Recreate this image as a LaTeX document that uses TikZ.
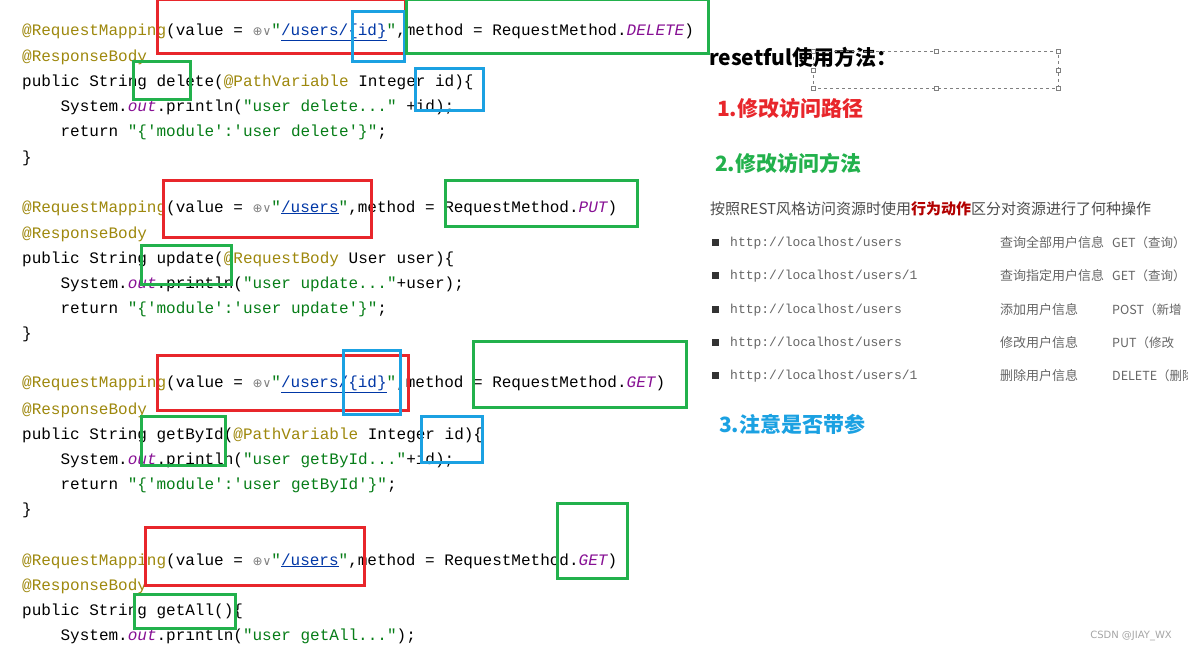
\documentclass[tikz,border=0pt]{standalone}
\usepackage{fontspec}
\setmonofont{Liberation Mono}
\newfontfamily\cjk{Noto Sans CJK SC}
\newfontfamily\dejavu{DejaVu Sans}
\definecolor{annocol}{HTML}{9E880D}
\definecolor{strcol}{HTML}{067D17}
\definecolor{urlcol}{HTML}{0037A6}
\definecolor{fieldcol}{HTML}{871094}
\definecolor{boxred}{HTML}{E8262B}
\definecolor{boxgreen}{HTML}{22B14C}
\definecolor{boxblue}{HTML}{1BA1E2}
\newcommand{\anno}[1]{\textcolor{annocol}{#1}}
\newcommand{\jstr}[1]{\textcolor{strcol}{#1}}
\newcommand{\jurl}[1]{\textcolor{strcol}{"}\textcolor{urlcol}{\underline{#1}}\textcolor{strcol}{"}}
\newcommand{\jfld}[1]{\textcolor{fieldcol}{\itshape #1}}
\newcommand{\globeicon}{\textcolor{gray}{\dejavu\fontsize{12}{12}\selectfont ⊕∨}}
\tikzset{
  code/.style={anchor=west, inner sep=0pt, font=\ttfamily\fontsize{16}{18}\selectfont},
  mark box/.style={draw=#1, line width=3pt},
  tip/.style={anchor=west, inner sep=0pt, font=\cjk\bfseries\fontsize{21}{24}\selectfont},
  row/.style={anchor=west, inner sep=0pt, text=gray!80!black},
}
\begin{document}
\begin{tikzpicture}[x=1pt,y=-1pt]
\useasboundingbox (0,0) rectangle (1188,652);
\clip (0,0) rectangle (1188,652);
\fill[white] (0,0) rectangle (1188,652);
% code
\node[code] (l1) at (22,32) {\anno{@RequestMapping}(value = \globeicon\jurl{/users/\{id\}},method = RequestMethod.\jfld{DELETE})};
\node[code] (l2) at (22,57) {\anno{@ResponseBody}};
\node[code] (l3) at (22,82) {public String delete(\anno{@PathVariable} Integer id)\{};
\node[code] (l4) at (22,107) {\ \ \ \ System.\jfld{out}.println(\jstr{"user delete..."} +id);};
\node[code] (l5) at (22,132) {\ \ \ \ return \jstr{"\{'module':'user delete'\}"};};
\node[code] (l6) at (22,158) {\}};
\node[code] (l7) at (22,208) {\anno{@RequestMapping}(value = \globeicon\jurl{/users},method = RequestMethod.\jfld{PUT})};
\node[code] (l8) at (22,234) {\anno{@ResponseBody}};
\node[code] (l9) at (22,259) {public String update(\anno{@RequestBody} User user)\{};
\node[code] (l10) at (22,284) {\ \ \ \ System.\jfld{out}.println(\jstr{"user update..."}+user);};
\node[code] (l11) at (22,309) {\ \ \ \ return \jstr{"\{'module':'user update'\}"};};
\node[code] (l12) at (22,334) {\}};
\node[code] (l13) at (22,384) {\anno{@RequestMapping}(value = \globeicon\jurl{/users/\{id\}},method = RequestMethod.\jfld{GET})};
\node[code] (l14) at (22,410) {\anno{@ResponseBody}};
\node[code] (l15) at (22,435) {public String getById(\anno{@PathVariable} Integer id)\{};
\node[code] (l16) at (22,460) {\ \ \ \ System.\jfld{out}.println(\jstr{"user getById..."}+id);};
\node[code] (l17) at (22,485) {\ \ \ \ return \jstr{"\{'module':'user getById'\}"};};
\node[code] (l18) at (22,510) {\}};
\node[code] (l19) at (22,561) {\anno{@RequestMapping}(value = \globeicon\jurl{/users},method = RequestMethod.\jfld{GET})};
\node[code] (l20) at (22,586) {\anno{@ResponseBody}};
\node[code] (l21) at (22,611) {public String getAll()\{};
\node[code] (l22) at (22,636) {\ \ \ \ System.\jfld{out}.println(\jstr{"user getAll..."});};
% boxes
\draw[mark box=boxred] (157,0) rectangle (405,54);
\draw[mark box=boxblue] (352,12) rectangle (404,62);
\draw[mark box=boxgreen] (406,0) rectangle (708,54);
\draw[mark box=boxgreen] (133,62) rectangle (190,100);
\draw[mark box=boxblue] (415,69) rectangle (483,111);
\draw[mark box=boxred] (163,181) rectangle (371,238);
\draw[mark box=boxgreen] (445,181) rectangle (637,227);
\draw[mark box=boxgreen] (141,246) rectangle (231,284);
\draw[mark box=boxred] (157,355) rectangle (408,410);
\draw[mark box=boxblue] (343,350) rectangle (400,414);
\draw[mark box=boxgreen] (473,341) rectangle (686,407);
\draw[mark box=boxgreen] (141,416) rectangle (225,465);
\draw[mark box=boxblue] (421,416) rectangle (482,462);
\draw[mark box=boxred] (145,527) rectangle (364,585);
\draw[mark box=boxgreen] (557,503) rectangle (627,578);
\draw[mark box=boxgreen] (134,594) rectangle (235,628);
% right side
\node[tip] (title) at (709,57) {resetful使用方法：};
\draw[dashed, gray, thin] (813,51) rectangle (1058,88);
\foreach \hx/\hy in {813/51,936/51,1058/51,813/70,1058/70,813/88,936/88,1058/88}
  \draw[gray, fill=white] (\hx-2,\hy-2) rectangle (\hx+2,\hy+2);
\node[tip, text=boxred] (tip1) at (717,108) {1.修改访问路径};
\node[tip, text=boxgreen] (tip2) at (715,163) {2.修改访问方法};
\node[tip, text=boxblue] (tip3) at (719,424) {3.注意是否带参};
\node[row, font=\cjk\fontsize{15}{18}\selectfont, text=gray!60!black] (rest) at (710,209)
  {按照REST风格访问资源时使用\textcolor{red!70!black}{\bfseries 行为动作}区分对资源进行了何种操作};
\foreach \ry/\url/\desc/\verb [count=\i] in {
  243/users/查询全部用户信息/GET（查询）,
  276/users\slash1/查询指定用户信息/GET（查询）,
  310/users/添加用户信息/POST（新增/保存）,
  343/users/修改用户信息/PUT（修改/更新）,
  376/users\slash1/删除用户信息/DELETE（删除）} {
  \fill[black!80] (712,\ry-4) rectangle (719,\ry+3);
  \node[row, font=\ttfamily\fontsize{13}{15}\selectfont] (url\i) at (730,\ry) {http://localhost/\url};
  \node[row, font=\cjk\fontsize{13}{15}\selectfont] (desc\i) at (1000,\ry) {\desc};
  \node[row, font=\cjk\fontsize{12.5}{15}\selectfont] (verb\i) at (1112,\ry) {\verb};
}
\node[anchor=east, inner sep=0pt, text=gray!70, font=\dejavu\fontsize{10}{12}\selectfont] (mark) at (1172,636) {CSDN @JIAY\_WX};
\end{tikzpicture}
\end{document}
